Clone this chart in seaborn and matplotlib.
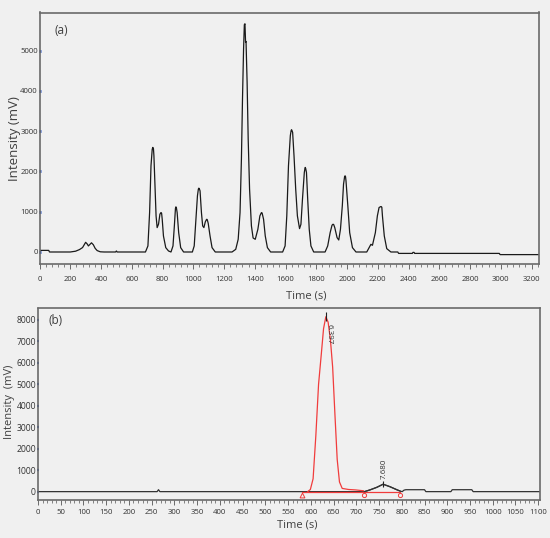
import numpy as np
import pandas as pd
import matplotlib
matplotlib.use("Agg")
import matplotlib.pyplot as plt
from matplotlib.ticker import MultipleLocator
import seaborn as sns

# ---------------- data: panel (a) chromatogram trace ----------------
a_time = [0, 60, 65, 200, 235, 260, 280, 292, 300, 310, 318, 328, 338, 350, 362, 375, 395, 420,
          495, 500, 505,
          689, 705, 716, 725, 733, 737, 741, 744, 751, 758, 765, 774, 783, 788, 791, 794, 798, 806, 821, 839,
          855, 868, 877, 884, 887, 890, 895, 905, 918, 937,
          994, 1006, 1017, 1027, 1033, 1036, 1039, 1044, 1053, 1061, 1069, 1078, 1085, 1088, 1091,
          1097, 1109, 1122, 1143,
          1252, 1276, 1292, 1304, 1313, 1320, 1327, 1332, 1336, 1340, 1343, 1350, 1357, 1366, 1378,
          1389, 1403, 1420, 1433, 1442, 1445, 1448, 1457, 1468, 1482, 1503,
          1581, 1597, 1608, 1619, 1631, 1636, 1639, 1642, 1646, 1655, 1666, 1677, 1691, 1700, 1710,
          1722, 1726, 1728, 1731, 1736, 1744, 1754, 1765, 1783,
          1857, 1874, 1890, 1902, 1907, 1910, 1913, 1920, 1935, 1946, 1957, 1969, 1977, 1984, 1987,
          1990, 1993, 2005, 2017, 2035, 2058,
          2128, 2143, 2155, 2165, 2184, 2197, 2208, 2218, 2222, 2226, 2230, 2242, 2258, 2285,
          2330, 2335, 2425, 2428, 2436, 2439, 2990, 2995, 3250]
a_intensity = [40, 40, 0, 0, 20, 60, 110, 190, 240, 200, 150, 190, 228, 180, 90, 35, 5, 0,
               0, 25, 0,
               0, 150, 980, 2140, 2550, 2595, 2560, 2390, 1640, 895, 605, 690, 937, 970, 978, 960, 812, 398, 108, 25,
               0, 150, 650, 1080, 1120, 1100, 980, 480, 108, 0,
               0, 150, 812, 1393, 1560, 1584, 1570, 1517, 978, 647, 605, 746, 800, 812, 800,
               713, 398, 108, 0,
               0, 66, 315, 978, 2305, 3800, 5040, 5640, 5663, 5207, 5224, 4212, 2803, 1559, 647,
               348, 315, 564, 895, 970, 978, 960, 812, 398, 108, 0,
               0, 150, 895, 2140, 2886, 3010, 3035, 3010, 2968, 2388, 1559, 895, 580, 688, 1310,
               1973, 2070, 2098, 2070, 1973, 1310, 564, 150, 0,
               0, 150, 480, 663, 685, 688, 680, 605, 356, 298, 564, 1144, 1683, 1870, 1891,
               1870, 1766, 1144, 480, 108, 0,
               0, 108, 190, 166, 480, 895, 1103, 1125, 1128, 1110, 895, 398, 83, 0,
               0, -35, -35, -10, -10, -35, -35, -65, -65]

a_xticks = list(range(0, 3201, 200))
a_yticks = [0, 1000, 2000, 3000, 4000, 5000]

# ---------------- data: panel (b) ----------------
b_black_time = [0, 262, 265, 268, 718, 730, 745, 759, 774, 789, 797, 801, 805, 809, 850, 853,
                908, 911, 954, 957, 1104]
b_black_int = [0, 0, 90, 0, 0, 80, 200, 345, 230, 90, 20, 0, 70, 90, 90, 0,
               0, 90, 90, 0, 0]

b_red_time = [593, 599, 605, 611, 617, 623, 628, 633, 638, 643, 648, 653, 658, 663, 669, 683, 698, 716]
b_red_int = [0, 100, 600, 2600, 5000, 6400, 7600, 8150, 7900, 7100, 5800, 3600, 1500, 450, 150, 100, 80, 40]

peak_labels = ["6.397", "7.680"]
peak_rt = [634, 759]
peak_apex = [8150, 345]
integ_bounds = [580, 718, 797]          # integration baseline start / split / end

b_xticks = list(range(0, 1101, 50))
b_yticks = list(range(0, 8001, 1000))

# ---------------- style ----------------
sns.set_theme(style="ticks")
plt.rcParams["font.family"] = ["Open Sans", "DejaVu Sans"]

BG = "#f0f0f0"
SPINE = "#6a6a6a"
TXT = "#333333"
BLUE = "#2a55c0"
RED = "#f03c3c"

fig = plt.figure(figsize=(5.5, 5.38), dpi=100, facecolor=BG)
W, H = 550.0, 538.0

def px_axes(l, t, r, b):
    return [l / W, 1 - b / H, (r - l) / W, (b - t) / H]

ax1 = fig.add_axes(px_axes(39.5, 12.5, 539.3, 264))
ax2 = fig.add_axes(px_axes(38, 308.3, 540, 500))

for ax in (ax1, ax2):
    ax.set_facecolor(BG)
    for s in ax.spines.values():
        s.set_color(SPINE)
        s.set_linewidth(1.2)
        s.set_visible(True)

# ---- panel (a) ----
df_a = pd.DataFrame({"Time (s)": a_time, "Intensity (mV)": a_intensity})
sns.lineplot(data=df_a, x="Time (s)", y="Intensity (mV)", ax=ax1, color="#1a1a1a",
             linewidth=0.9, estimator=None, sort=False)
ax1.set_xlim(0, 3250)
ax1.set_ylim(-298, 5943)
ax1.set_xticks(a_xticks)
ax1.set_yticks(a_yticks)
ax1.xaxis.set_minor_locator(MultipleLocator(40))
ax1.tick_params(axis="x", which="major", direction="out", length=3.5, width=0.6, color="#555555",
                labelsize=5.6, labelcolor=TXT, pad=5.0)
ax1.tick_params(axis="x", which="minor", direction="out", length=2, width=0.5, color="#555555")
ax1.tick_params(axis="y", which="major", direction="inout", length=1.3, width=2.0, color=BLUE,
                labelsize=5.6, labelcolor=TXT, pad=0.6)
ax1.set_xlabel("Time (s)", fontsize=8, color="#404040")
ax1.set_ylabel("Intensity (mV)", fontsize=9.5, color="#404040")
ax1.xaxis.set_label_coords(0.533, -0.105)
ax1.yaxis.set_label_coords(-0.037, 0.497)
ax1.text(0.0444, 0.930, "(a)", transform=ax1.transAxes, fontsize=8.5, color="#404040",
         ha="center", va="center")

# ---- panel (b) ----
df_b = pd.DataFrame({"Time (s)": b_black_time, "Intensity (mV)": b_black_int})
sns.lineplot(data=df_b, x="Time (s)", y="Intensity (mV)", ax=ax2, color="#333333",
             linewidth=0.9, estimator=None, sort=False)
# integration baseline (red)
base_df = pd.DataFrame({"t": [integ_bounds[0], integ_bounds[-1]], "v": [0, 0]})
sns.lineplot(data=base_df, x="t", y="v", ax=ax2, color=RED, linewidth=0.9, estimator=None)
df_r = pd.DataFrame({"t": b_red_time, "v": b_red_int})
sns.lineplot(data=df_r, x="t", y="v", ax=ax2, color=RED, linewidth=0.9, estimator=None, sort=False)
# re-draw small black peak on top of red baseline
small = df_b[(df_b["Time (s)"] >= integ_bounds[1]) & (df_b["Time (s)"] <= integ_bounds[2])]
sns.lineplot(data=small, x="Time (s)", y="Intensity (mV)", ax=ax2, color="#333333",
             linewidth=0.9, estimator=None, sort=False)
# integration markers
ax2.plot([integ_bounds[0]], [-150], marker="^", ms=3.5, mfc="none", mec=RED, mew=0.7, ls="none")
ax2.plot(integ_bounds[1:], [-150, -150], marker="o", ms=3.0, mfc="none", mec=RED, mew=0.7, ls="none")
# apex markers and retention time labels
lo_off = [200, 120]
hi_off = [210, 150]
ax2.vlines(peak_rt, [a - l for a, l in zip(peak_apex, lo_off)],
           [a + h for a, h in zip(peak_apex, hi_off)], color="#222222", linewidth=0.8)
ax2.text(peak_rt[0] + 7, peak_apex[0] - 800, peak_labels[0], rotation=270, fontsize=5.8,
         color=TXT, ha="center", va="center")
ax2.text(peak_rt[1] + 3, peak_apex[1] + 700, peak_labels[1], rotation=90, fontsize=5.8,
         color=TXT, ha="center", va="center")

ax2.set_xlim(0, 1104)
ax2.set_ylim(-390, 8545)
ax2.set_xticks(b_xticks)
ax2.set_yticks(b_yticks)
ax2.xaxis.set_minor_locator(MultipleLocator(10))
ax2.tick_params(axis="x", which="major", direction="out", length=3.5, width=0.6, color="#555555",
                labelsize=5.6, labelcolor=TXT, pad=2.8)
ax2.tick_params(axis="x", which="minor", direction="out", length=2, width=0.5, color="#555555")
ax2.tick_params(axis="y", which="major", direction="inout", length=1.3, width=1.6, color=BLUE,
                labelsize=6.2, labelcolor=TXT, pad=0.8)
ax2.spines["left"].set_linestyle((0, (1, 1)))
ax2.set_xlabel("Time (s)", fontsize=8, color="#404040")
ax2.set_ylabel("Intensity  (mV)", fontsize=8, color="#404040")
ax2.xaxis.set_label_coords(0.516, -0.104)
ax2.yaxis.set_label_coords(-0.046, 0.513)
ax2.text(0.0349, 0.935, "(b)", transform=ax2.transAxes, fontsize=8.5, color="#404040",
         ha="center", va="center")

fig.savefig("out.png", dpi=100, facecolor=BG)
